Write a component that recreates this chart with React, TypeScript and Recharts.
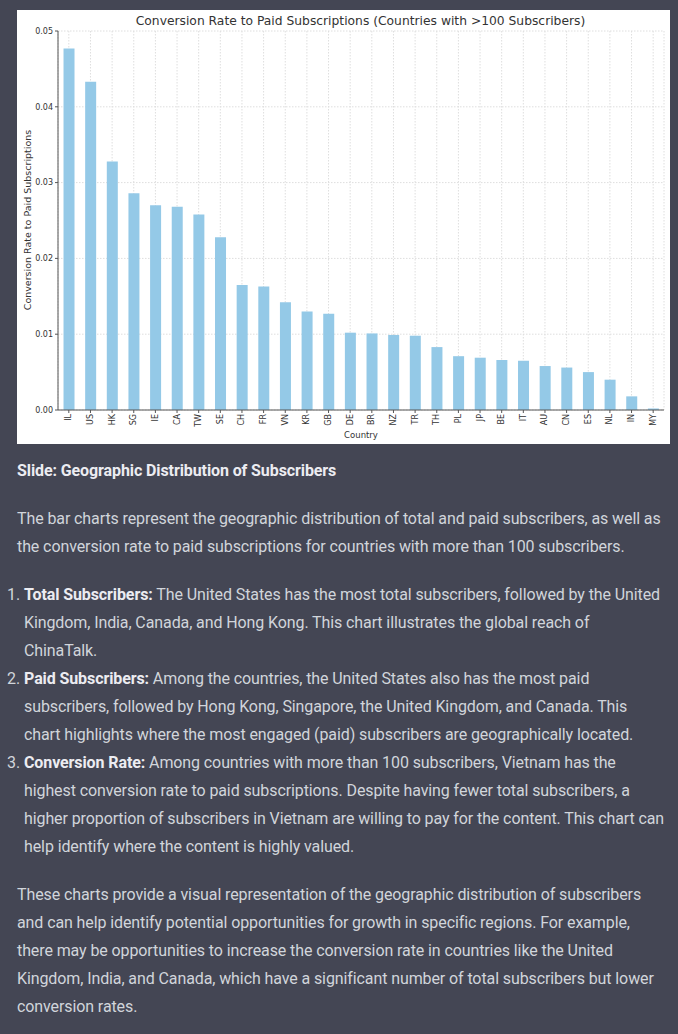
import { BarChart, Bar, XAxis, YAxis, CartesianGrid } from "recharts";

const countries = [
  "IL", "US", "HK", "SG", "IE", "CA", "TW", "SE", "CH", "FR", "VN", "KR", "GB", "DE",
  "BR", "NZ", "TR", "TH", "PL", "JP", "BE", "IT", "AU", "CN", "ES", "NL", "IN", "MY",
];
const conversionRates = [
  0.0477, 0.0433, 0.0328, 0.0286, 0.0270, 0.0268, 0.0258, 0.0228, 0.0165, 0.0163,
  0.0142, 0.0130, 0.0127, 0.0102, 0.0101, 0.0099, 0.0098, 0.0083, 0.0071, 0.0069,
  0.0066, 0.0065, 0.0058, 0.0056, 0.0050, 0.0040, 0.0018, 0.0002,
];
const yTicks = [0, 0.01, 0.02, 0.03, 0.04, 0.05];

const heading = "Slide: Geographic Distribution of Subscribers";
const introLines = [
  "The bar charts represent the geographic distribution of total and paid subscribers, as well as",
  "the conversion rate to paid subscriptions for countries with more than 100 subscribers.",
];
const listItems = [
  {
    label: "Total Subscribers:",
    lines: [
      " The United States has the most total subscribers, followed by the United",
      "Kingdom, India, Canada, and Hong Kong. This chart illustrates the global reach of",
      "ChinaTalk.",
    ],
  },
  {
    label: "Paid Subscribers:",
    lines: [
      " Among the countries, the United States also has the most paid",
      "subscribers, followed by Hong Kong, Singapore, the United Kingdom, and Canada. This",
      "chart highlights where the most engaged (paid) subscribers are geographically located.",
    ],
  },
  {
    label: "Conversion Rate:",
    lines: [
      " Among countries with more than 100 subscribers, Vietnam has the",
      "highest conversion rate to paid subscriptions. Despite having fewer total subscribers, a",
      "higher proportion of subscribers in Vietnam are willing to pay for the content. This chart can",
      "help identify where the content is highly valued.",
    ],
  },
];
const closingLines = [
  "These charts provide a visual representation of the geographic distribution of subscribers",
  "and can help identify potential opportunities for growth in specific regions. For example,",
  "there may be opportunities to increase the conversion rate in countries like the United",
  "Kingdom, India, and Canada, which have a significant number of total subscribers but lower",
  "conversion rates.",
];

const data = countries.map((country, i) => ({ country, rate: conversionRates[i] }));

const mpl = "'DejaVu Sans', sans-serif";
const LH = 28;

const CountryTick = (props: any) => {
  const { x, y, payload } = props;
  return (
    <text
      x={x}
      y={y}
      transform={`rotate(-90 ${x} ${y})`}
      textAnchor="end"
      dominantBaseline="central"
      fontSize={8}
      fill="#333"
      fontFamily={mpl}
    >
      {payload.value}
    </text>
  );
};

const line = (text: string, i: number) => (
  <div key={i} style={{ whiteSpace: "nowrap", height: LH }}>
    {text}
  </div>
);

export default function App() {
  let listTop = 581;
  return (
    <div
      style={{
        position: "relative",
        width: 678,
        height: 1034,
        background: "#444654",
        overflow: "hidden",
        fontFamily: "Roboto, sans-serif",
        fontSize: 16,
        lineHeight: `${LH}px`,
        letterSpacing: "-0.1px",
        color: "#d1d5db",
      }}
    >
      <style>{`body{margin:0}`}</style>
      <div style={{ position: "absolute", left: 17, top: 10, width: 653, height: 434, background: "#fff", letterSpacing: 0 }}>
        <BarChart
          width={653}
          height={434}
          data={data}
          margin={{ top: 21, right: 6, left: 0, bottom: 0 }}
          barCategoryGap="25.5%"
        >
          <CartesianGrid stroke="#dedede" strokeDasharray="1.5 1.5" />
          <XAxis
            dataKey="country"
            height={34}
            tick={<CountryTick />}
            tickSize={3}
            tickMargin={1}
            interval={0}
            stroke="#555"
          />
          <YAxis
            width={41}
            domain={[0, 0.05]}
            ticks={yTicks}
            tickFormatter={(v: number) => v.toFixed(2)}
            tickSize={3}
            tickMargin={2}
            stroke="#555"
            tick={{ fontSize: 8, fill: "#333", fontFamily: mpl }}
          />
          <Bar dataKey="rate" fill="#94c9e7" isAnimationActive={false} />
        </BarChart>
        <div
          style={{
            position: "absolute",
            left: 0,
            width: 687,
            top: 4,
            textAlign: "center",
            fontFamily: mpl,
            fontSize: 12.3,
            lineHeight: "15px",
            color: "#333",
            whiteSpace: "nowrap",
          }}
        >
          Conversion Rate to Paid Subscriptions (Countries with &gt;100 Subscribers)
        </div>
        <div
          style={{
            position: "absolute",
            left: 10,
            top: 210,
            transform: "translate(-50%, -50%) rotate(-90deg)",
            fontFamily: mpl,
            fontSize: 9.5,
            lineHeight: "11px",
            color: "#333",
            whiteSpace: "nowrap",
          }}
        >
          Conversion Rate to Paid Subscriptions
        </div>
        <div
          style={{
            position: "absolute",
            left: 344,
            top: 425,
            transform: "translate(-50%, -50%)",
            fontFamily: mpl,
            fontSize: 8.5,
            lineHeight: "10px",
            color: "#333",
          }}
        >
          Country
        </div>
      </div>

      <div style={{ position: "absolute", left: 17, top: 457, fontWeight: 700, color: "#ececf1", whiteSpace: "nowrap" }}>
        {heading}
      </div>
      <div style={{ position: "absolute", left: 17, top: 505 }}>{introLines.map(line)}</div>

      {listItems.map((item, n) => {
        const top = listTop;
        listTop += item.lines.length * LH;
        return (
          <div key={n} style={{ position: "absolute", left: 24, top }}>
            <span style={{ position: "absolute", left: -17 }}>{n + 1}.</span>
            {item.lines.map((t, i) => (
              <div key={i} style={{ whiteSpace: "nowrap", height: LH }}>
                {i === 0 && <span style={{ fontWeight: 700, color: "#ececf1" }}>{item.label}</span>}
                {t}
              </div>
            ))}
          </div>
        );
      })}

      <div style={{ position: "absolute", left: 17, top: 881 }}>{closingLines.map(line)}</div>
    </div>
  );
}
